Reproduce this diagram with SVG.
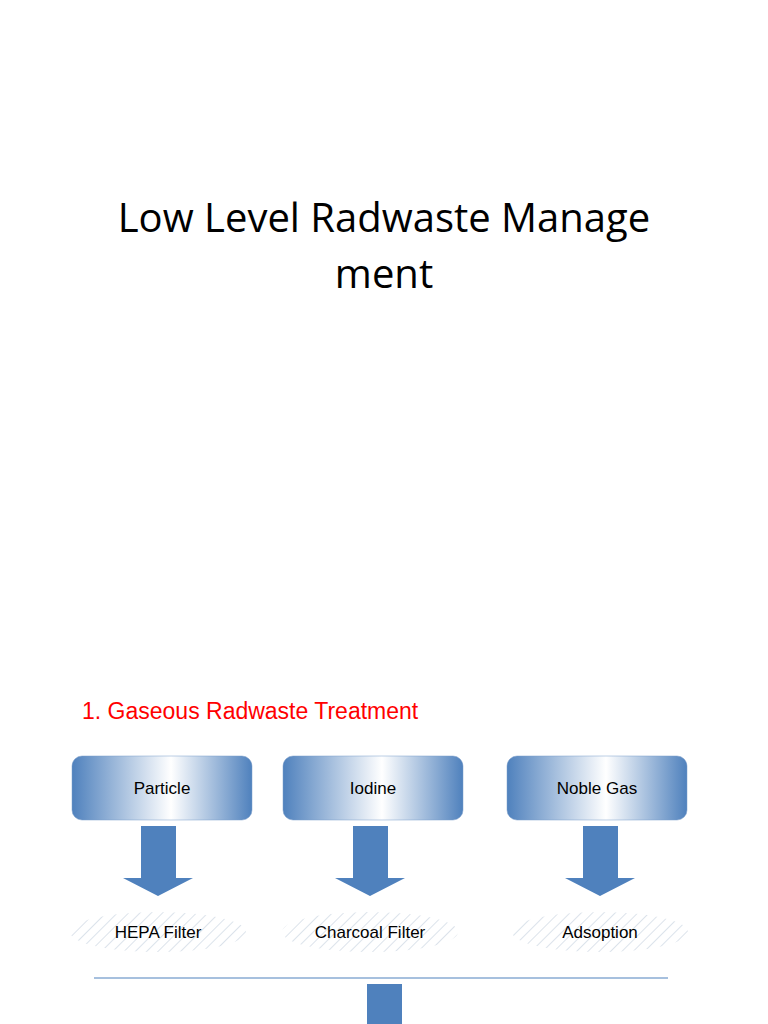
<svg xmlns="http://www.w3.org/2000/svg" width="768" height="1024" viewBox="0 0 768 1024">
<defs>
<linearGradient id="g" x1="0" y1="0" x2="1" y2="0">
<stop offset="0" stop-color="#4f81bd"/><stop offset="0.45" stop-color="#dfe8f3"/><stop offset="0.55" stop-color="#ffffff"/><stop offset="1" stop-color="#4f81bd"/>
</linearGradient>
<pattern id="h" width="8" height="8" patternUnits="userSpaceOnUse" patternTransform="rotate(45)">
<line x1="0" y1="0" x2="0" y2="8" stroke="#c5d0de" stroke-width="1.2"/>
</pattern>
<radialGradient id="fade" cx="0.5" cy="0.5" r="0.5"><stop offset="0.6" stop-color="#fff" stop-opacity="1"/><stop offset="1" stop-color="#fff" stop-opacity="0"/></radialGradient>
<mask id="m"><rect x="0" y="0" width="768" height="1024" fill="url(#fade)"/></mask>
<symbol id="arr" viewBox="0 0 70 70"><polygon points="18,0 53,0 53,52 70,52 35,70 0,52 18,52" fill="#4f81bd"/></symbol>
</defs>
<style>
.box{fill:url(#g);stroke:#7a9cc8;stroke-width:0.5}
.t{font-family:"Liberation Sans",Arial,sans-serif;font-size:17px;fill:#000;text-anchor:middle}
.hatch{fill:url(#h)}
</style>
<rect width="768" height="1024" fill="#fff"/>
<text x="384" y="232" font-family="Open Sans,Liberation Sans,sans-serif" font-size="40" text-anchor="middle" fill="#000">Low Level Radwaste Manage</text>
<text x="384" y="288" font-family="Open Sans,Liberation Sans,sans-serif" font-size="40" text-anchor="middle" fill="#000">ment</text>
<text x="82" y="719" font-family="Liberation Sans,Arial,sans-serif" font-size="23" fill="#ff0000">1. Gaseous Radwaste Treatment</text>
<g id="particle"><rect class="box" x="72" y="756" width="180" height="64" rx="10"/><text class="t" x="162" y="794">Particle</text></g>
<g id="iodine"><rect class="box" x="283" y="756" width="180" height="64" rx="10"/><text class="t" x="373" y="794">Iodine</text></g>
<g id="noble"><rect class="box" x="507" y="756" width="180" height="64" rx="10"/><text class="t" x="597" y="794">Noble Gas</text></g>
<g id="hepa"><ellipse class="hatch" cx="158" cy="932" rx="88" ry="20"/><text class="t" x="158" y="938">HEPA Filter</text></g>
<g id="charcoal"><ellipse class="hatch" cx="370" cy="932" rx="88" ry="20"/><text class="t" x="370" y="938">Charcoal Filter</text></g>
<g id="ads"><ellipse class="hatch" cx="600" cy="932" rx="88" ry="20"/><text class="t" x="600" y="938">Adsoption</text></g>
<g id="connectors">
<use href="#arr" x="123" y="826" width="70" height="70"/>
<use href="#arr" x="335" y="826" width="70" height="70"/>
<use href="#arr" x="565" y="826" width="70" height="70"/>
<line x1="94" y1="978" x2="668" y2="978" stroke="#4f81bd" stroke-width="1"/>
<rect x="367" y="984" width="35" height="40" fill="#4f81bd"/>
</g>
</svg>
